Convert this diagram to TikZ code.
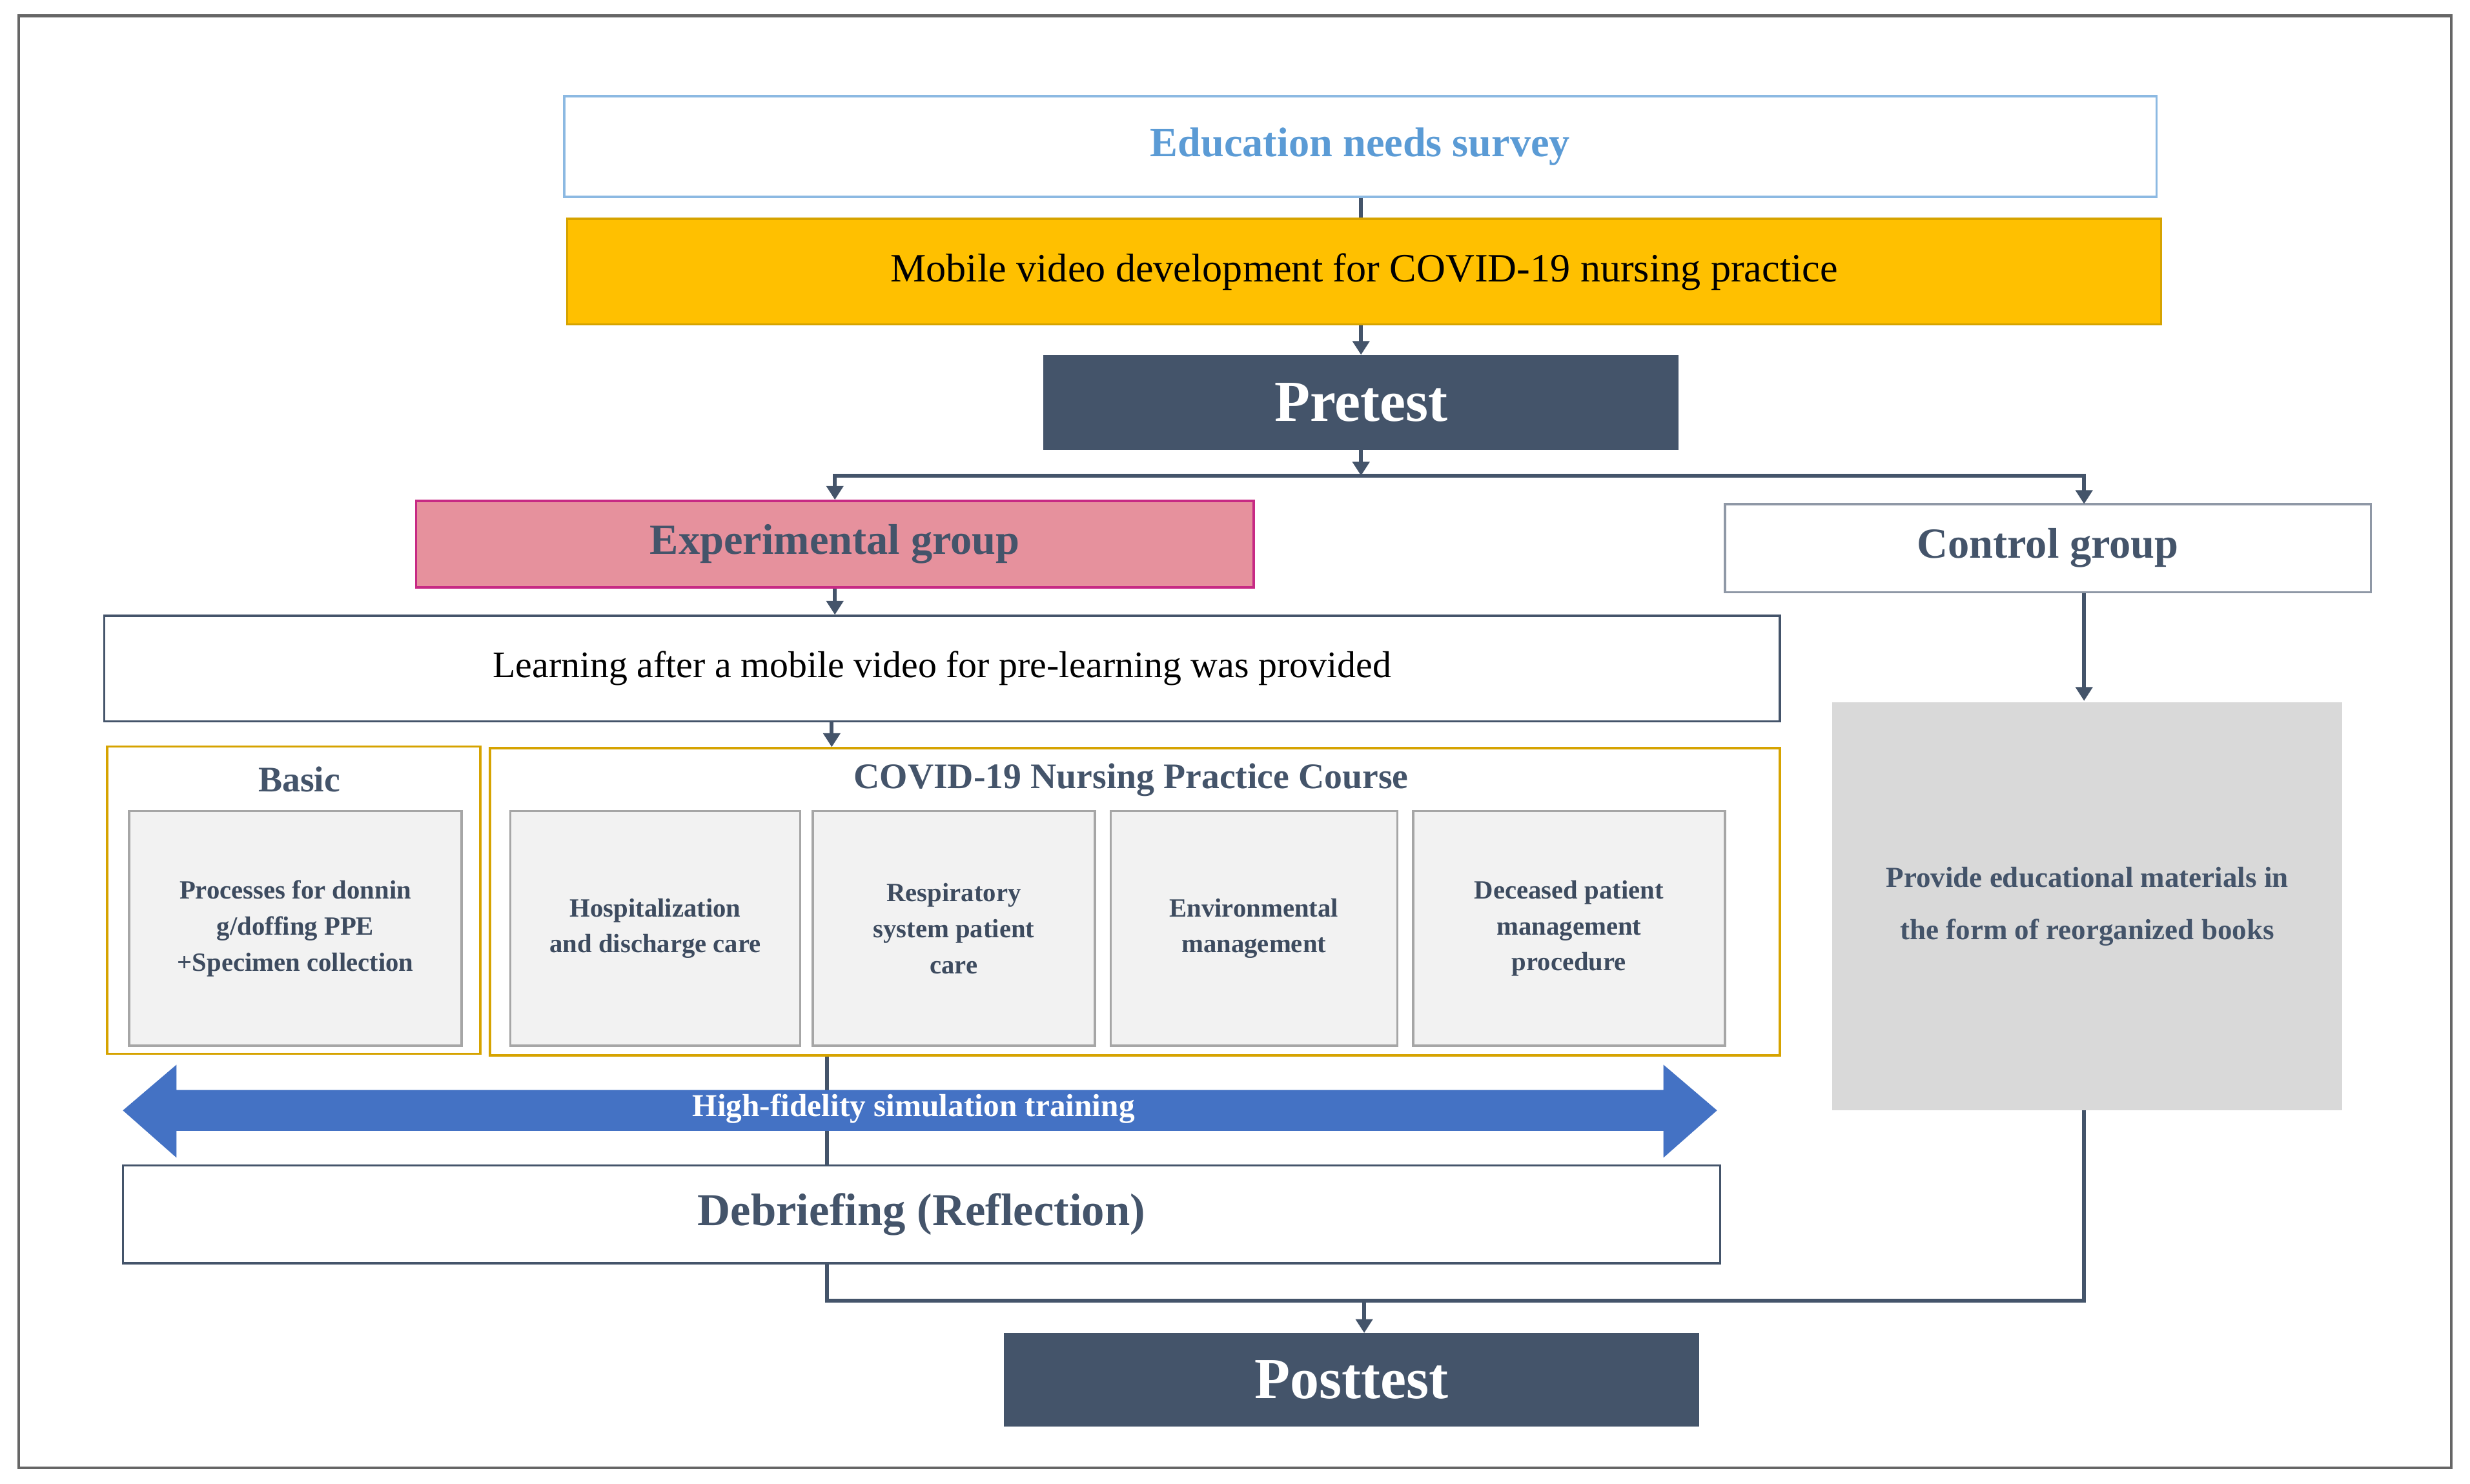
\documentclass[tikz,border=0pt]{standalone}
\usepackage{fontspec}
\setmainfont{Liberation Serif}
\usetikzlibrary{arrows.meta}
\definecolor{slate}{HTML}{44546A}
\definecolor{skyblue}{HTML}{5B9BD5}
\definecolor{gold}{HTML}{FFC000}
\definecolor{goldline}{HTML}{D6A300}
\definecolor{pinkfill}{HTML}{E6919D}
\definecolor{royal}{HTML}{4472C4}
\begin{document}
\begin{tikzpicture}[x=0.02cm,y=-0.02cm,
    box/.style={draw,rectangle,inner sep=2pt,align=center,line width=0.8pt},
    inner/.style={box,draw=gray!70,fill=gray!10,minimum height=2.98cm,font=\fontsize{9.5}{13}\selectfont\bfseries,text=slate!90!black},
    line/.style={draw=slate,line width=1.4pt},
    arr/.style={line,-{Triangle[width=6pt,length=5pt]}}]
  \useasboundingbox (0,0) rectangle (1568,942);
  \draw[gray!80!black,line width=1pt] (12,10) rectangle (1556,932);

  % top part
  \node (survey) [box,draw=skyblue!70,minimum width=20.22cm,minimum height=1.28cm,text=skyblue,font=\fontsize{15}{18}\selectfont\bfseries] at (863.5,93) {Education needs survey};
  \node (mobile) [box,draw=goldline,fill=gold,minimum width=20.24cm,minimum height=1.34cm,font=\fontsize{14.5}{18}\selectfont] at (866,172.5) {Mobile video development for COVID-19 nursing practice};
  \node (pretest) [box,draw=slate,fill=slate,text=white,minimum width=8.04cm,minimum height=1.18cm,font=\fontsize{21}{24}\selectfont\bfseries] at (864,255.5) {Pretest};

  % groups
  \node (exp) [box,draw=magenta!80!black,fill=pinkfill,minimum width=10.64cm,minimum height=1.1cm,text=slate,font=\fontsize{15.5}{18}\selectfont\bfseries] at (530,345.5) {Experimental group};
  \node (ctrl) [box,draw=slate!60,minimum width=8.2cm,minimum height=1.12cm,text=slate,font=\fontsize{15.5}{18}\selectfont\bfseries] at (1300,348) {Control group};
  \node (learn) [box,draw=slate,minimum width=21.28cm,minimum height=1.34cm,font=\fontsize{13.5}{16}\selectfont] at (598,424.5) {Learning after a mobile video for pre-learning was provided};

  \node (basic) [box,draw=goldline,minimum width=4.74cm,minimum height=3.9cm] at (186.5,571.5) {};
  \node (covid) [box,draw=goldline,minimum width=16.38cm,minimum height=3.9cm] at (720.5,572.5) {};
  \node (basictitle) [text=slate,font=\fontsize{13}{15}\selectfont\bfseries] at (190,495) {Basic};
  \node (covidtitle) [text=slate,font=\fontsize{13}{15}\selectfont\bfseries] at (718,495) {COVID-19 Nursing Practice Course};

  \node (ppe) [inner,minimum width=4.22cm] at (187.5,589.5) {Processes for donnin\\g/doffing PPE\\+Specimen collection};
  \node (hosp) [inner,minimum width=3.68cm] at (416,589.5) {Hospitalization\\and discharge care};
  \node (resp) [inner,minimum width=3.58cm] at (605.5,589.5) {Respiratory\\system patient\\care};
  \node (env) [inner,minimum width=3.64cm] at (796,589.5) {Environmental\\management};
  \node (dec) [inner,minimum width=3.96cm] at (996,589.5) {Deceased patient\\management\\procedure};

  \node (books) [box,draw=none,fill=gray!30,minimum width=6.48cm,minimum height=5.18cm,text=slate,font=\fontsize{10.5}{19}\selectfont\bfseries] at (1325,575.5) {Provide educational materials in\\the form of reorganized books};

  \node (debrief) [box,draw=slate,minimum width=20.28cm,minimum height=1.24cm,text=slate,font=\fontsize{16.5}{18}\selectfont\bfseries] at (585,771) {Debriefing (Reflection)};
  \node (posttest) [box,draw=slate,fill=slate,text=white,minimum width=8.8cm,minimum height=1.16cm,font=\fontsize{21}{24}\selectfont\bfseries] at (858,876) {Posttest};

  % junctions
  \coordinate (split) at (864,302);
  \coordinate (ctrltop) at (1323,320);
  \coordinate (bookstop) at (1323,445);
  \coordinate (bookbot) at (1323,705);
  \coordinate (merge) at (866,826);

  % connectors
  \draw[line] (survey.south -| 864,0) -- (mobile.north -| 864,0);
  \draw[arr] (mobile.south -| 864,0) -- (pretest.north);
  \draw[arr] (pretest.south) -- (split);
  \draw[arr] (split) -| (exp.north);
  \draw[arr] (split) -| (ctrltop);
  \draw[arr] (exp.south) -- (learn.north -| exp.south);
  \draw[arr] (learn.south -| 528,0) -- (covid.north -| 528,0);
  \draw[arr] (ctrl.south -| ctrltop) -- (bookstop);
  \draw[line] (covid.south -| 525,0) -- (debrief.north -| 525,0);
  \draw[line] (debrief.south -| 525,0) |- (merge) -| (bookbot);
  \draw[arr] (merge) -- (posttest.north -| merge);

  % simulation arrow
  \fill[royal] (78,705) -- (112,676) -- (112,692) -- (1056,692) -- (1056,676) -- (1090,705)
    -- (1056,735) -- (1056,718) -- (112,718) -- (112,735) -- cycle;
  \node (sim) [text=white,font=\fontsize{11.5}{13}\selectfont\bfseries] at (580,704) {High-fidelity simulation training};
\end{tikzpicture}
\end{document}
